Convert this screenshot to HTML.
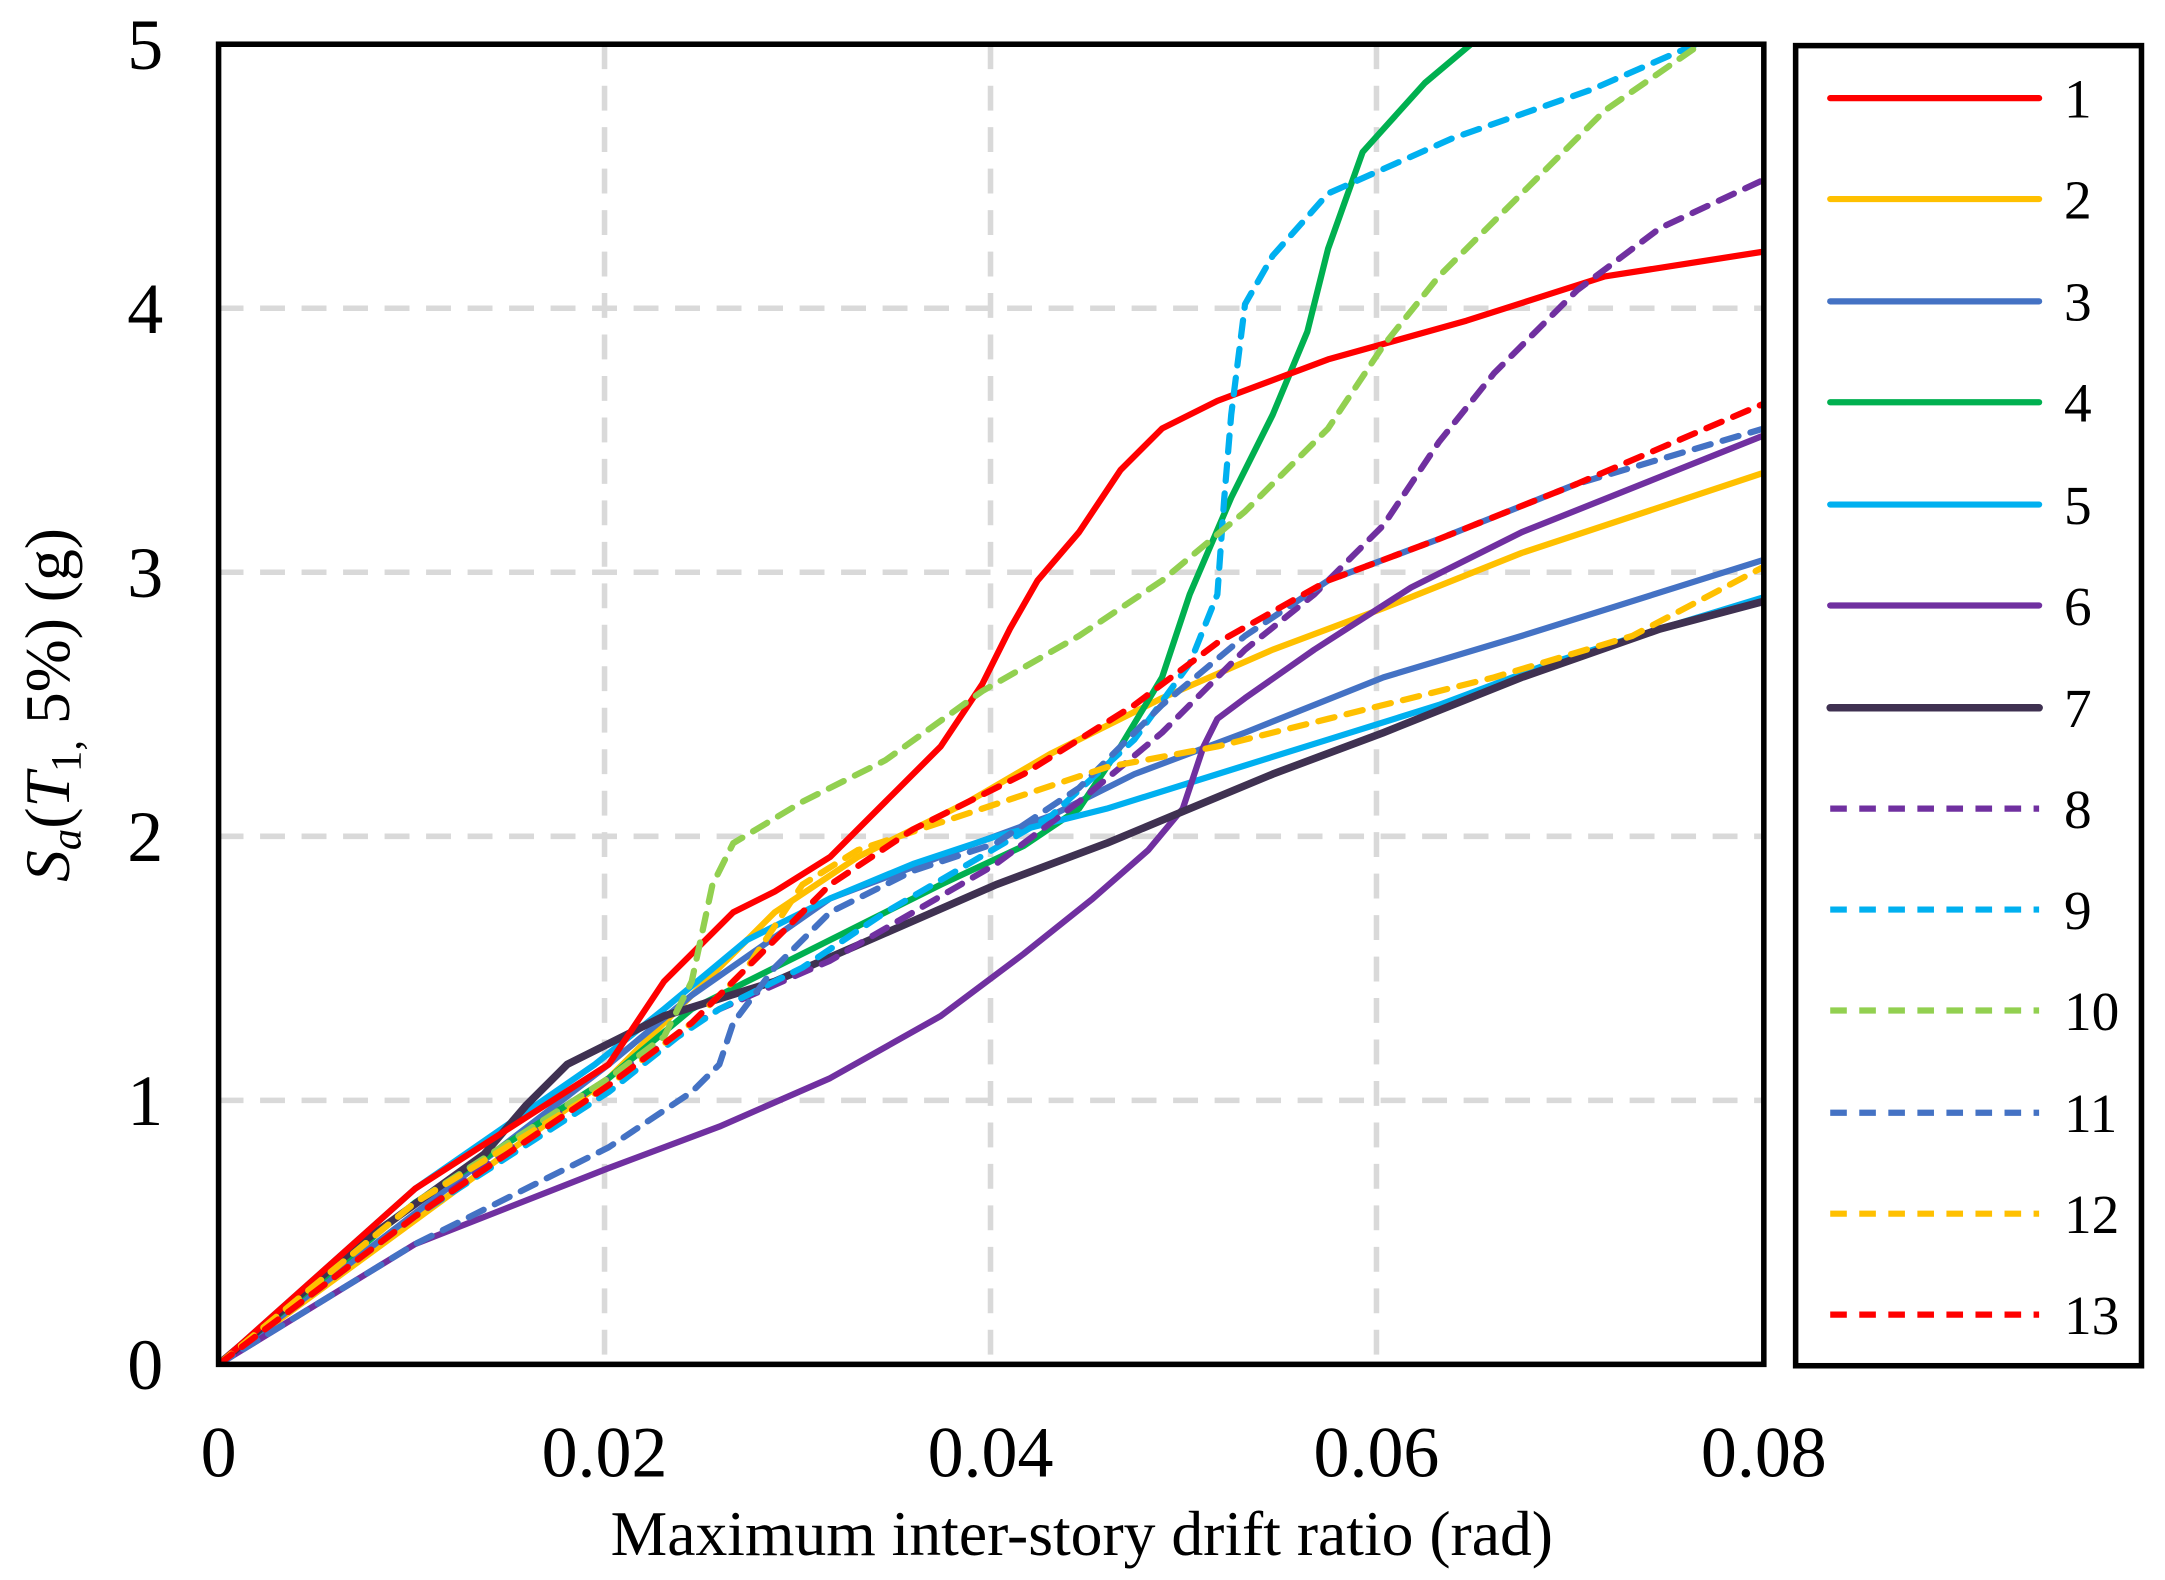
<!DOCTYPE html>
<html><head><style>html,body{margin:0;padding:0;background:#fff}svg{display:block}</style></head>
<body>
<svg width="2165" height="1580" viewBox="0 0 1565 1143" preserveAspectRatio="none" xmlns="http://www.w3.org/2000/svg" font-family="Liberation Serif, serif">
<g stroke="#d9d9d9" stroke-width="4" stroke-dasharray="18,12">
<line x1="437" y1="32" x2="437" y2="987"/><line x1="716" y1="32" x2="716" y2="987"/><line x1="995" y1="32" x2="995" y2="987"/>
<line x1="158" y1="223" x2="1275" y2="223"/><line x1="158" y1="414" x2="1275" y2="414"/><line x1="158" y1="605" x2="1275" y2="605"/><line x1="158" y1="796" x2="1275" y2="796"/>
</g>
<defs><clipPath id="c"><rect x="158" y="32" width="1117" height="955"/></clipPath></defs>
<g clip-path="url(#c)" fill="none" stroke-width="4.5" stroke-linejoin="round" stroke-linecap="round">
<polyline stroke="#FFC000" points="158,987 440,780 500,720 560,660 620,620 700,580 760,545 840,505 920,470 1000,440 1100,400 1275,342"/>
<polyline stroke="#4472C4" points="158,987 440,770 500,720 600,650 700,612 760,590 820,560 900,530 1000,490 1100,460 1275,405"/>
<polyline stroke="#00B050" points="158,987 300,870 440,780 500,730 560,700 620,670 680,640 740,612 780,585 810,540 840,490 860,430 890,360 920,300 945,240 960,180 985,110 1030,60 1068,28"/>
<polyline stroke="#00B0F0" points="158,987 300,860 430,770 480,730 540,680 600,650 660,625 720,605 800,585 880,560 960,535 1040,510 1120,480 1200,455 1275,432"/>
<polyline stroke="#7030A0" points="158,987 300,900 440,845 520,815 600,780 680,735 740,690 790,650 830,615 855,585 870,540 880,520 900,505 950,470 1020,425 1100,385 1200,345 1275,315"/>
<polyline stroke="#3F3151" stroke-width="5.5" points="158,987 260,900 350,835 380,800 410,770 480,735 560,710 640,675 720,640 800,610 860,585 920,560 1000,530 1100,490 1200,455 1275,435"/>
<polyline stroke="#FF0000" points="158,987 300,860 440,770 480,710 500,690 530,660 560,645 600,620 640,580 680,540 710,495 730,455 750,420 780,385 810,340 840,310 880,290 960,260 1060,232 1160,200 1275,182"/>
<g stroke-dasharray="12,9">
<polyline stroke="#7030A0" points="158,987 300,880 440,780 520,730 600,695 660,660 720,625 780,580 840,530 900,470 950,430 1000,380 1040,320 1080,270 1140,210 1200,165 1275,130"/>
<polyline stroke="#00B0F0" points="158,987 300,880 440,790 490,750 520,730 580,700 640,660 700,625 760,590 820,535 860,480 880,430 885,360 890,300 900,220 920,185 960,140 1050,100 1150,65 1235,28"/>
<polyline stroke="#92D050" points="158,987 300,870 440,780 480,750 500,710 515,640 530,610 580,580 640,550 710,500 780,460 840,420 900,370 960,310 1000,250 1040,200 1100,140 1160,80 1235,28"/>
<polyline stroke="#4472C4" points="158,987 300,900 440,830 500,790 520,770 530,740 560,700 600,660 660,630 720,610 780,570 840,510 900,460 960,420 1040,390 1140,350 1275,310"/>
<polyline stroke="#FFC000" points="158,987 300,870 440,785 500,740 540,700 580,640 620,615 680,595 740,575 800,555 880,540 960,520 1080,490 1180,460 1275,410"/>
<polyline stroke="#FF0000" points="158,987 300,880 440,785 500,740 550,690 600,640 660,600 740,560 820,510 880,465 960,420 1040,390 1140,350 1275,292"/>
</g></g>
<rect x="158" y="32" width="1117" height="955" fill="none" stroke="#000" stroke-width="4"/>
<g font-size="52" fill="#000" text-anchor="end">
<text x="118" y="1005">0</text><text x="118" y="814">1</text><text x="118" y="623">2</text><text x="118" y="432">3</text><text x="118" y="241">4</text><text x="118" y="50">5</text>
</g>
<g font-size="52" fill="#000" text-anchor="middle">
<text x="158" y="1068">0</text><text x="437" y="1068">0.02</text><text x="716" y="1068">0.04</text><text x="995" y="1068">0.06</text><text x="1275" y="1068">0.08</text>
<text x="782" y="1125" font-size="46">Maximum inter-story drift ratio (rad)</text>
</g>
<text transform="translate(50,510) rotate(-90)" font-size="46" text-anchor="middle"><tspan font-style="italic">S</tspan><tspan font-style="italic" font-size="31" dy="8">a</tspan><tspan dy="-8">(</tspan><tspan font-style="italic">T</tspan><tspan font-size="31" dy="8">1,</tspan><tspan dy="-8"> 5%) (g)</tspan></text>
<rect x="1298" y="33" width="250" height="955" fill="none" stroke="#000" stroke-width="4"/>
<g stroke-width="4.5" stroke-linecap="round">
<line x1="1323" x2="1474" y1="71" y2="71" stroke="#FF0000"/>
<line x1="1323" x2="1474" y1="144" y2="144" stroke="#FFC000"/>
<line x1="1323" x2="1474" y1="218" y2="218" stroke="#4472C4"/>
<line x1="1323" x2="1474" y1="291" y2="291" stroke="#00B050"/>
<line x1="1323" x2="1474" y1="365" y2="365" stroke="#00B0F0"/>
<line x1="1323" x2="1474" y1="438" y2="438" stroke="#7030A0"/>
<line x1="1323" x2="1474" y1="512" y2="512" stroke="#3F3151" stroke-width="5.5"/>
<g stroke-dasharray="12,9" stroke-linecap="butt">
<line x1="1323" x2="1474" y1="585" y2="585" stroke="#7030A0"/>
<line x1="1323" x2="1474" y1="658" y2="658" stroke="#00B0F0"/>
<line x1="1323" x2="1474" y1="731" y2="731" stroke="#92D050"/>
<line x1="1323" x2="1474" y1="805" y2="805" stroke="#4472C4"/>
<line x1="1323" x2="1474" y1="878" y2="878" stroke="#FFC000"/>
<line x1="1323" x2="1474" y1="951" y2="951" stroke="#FF0000"/>
</g></g>
<g font-size="40" fill="#000">
<text x="1492" y="85">1</text><text x="1492" y="158">2</text><text x="1492" y="232">3</text><text x="1492" y="305">4</text><text x="1492" y="379">5</text><text x="1492" y="452">6</text><text x="1492" y="526">7</text><text x="1492" y="599">8</text><text x="1492" y="672">9</text><text x="1492" y="745">10</text><text x="1492" y="819">11</text><text x="1492" y="892">12</text><text x="1492" y="965">13</text>
</g>
</svg>
</body></html>
